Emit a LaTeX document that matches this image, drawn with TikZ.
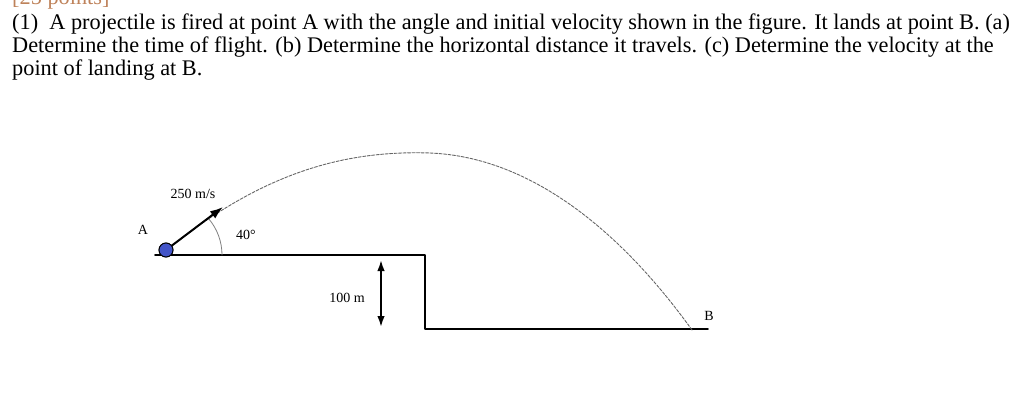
\documentclass[tikz,border=0pt]{standalone}
\usepackage{fontspec}
\setmainfont{Liberation Serif}
\usetikzlibrary{arrows.meta}
\definecolor{ballblue}{RGB}{66,84,200}
\definecolor{pointsbrown}{RGB}{190,130,90}
\begin{document}
\begin{tikzpicture}[x=1pt,y=-1pt,font=\fontsize{14}{16}\selectfont, line join=round, line cap=round, >={Latex[length=13pt,width=9pt]}]
	\useasboundingbox (0,0) rectangle (1024,406);
	\def\textsize{\fontsize{22.3}{23}\selectfont}
	%Đề bài
	\begin{scope}[every node/.style={anchor=base west, inner sep=0pt, font=\textsize}]
		\node[text=pointsbrown] (pts) at (12,5) {[25 points]};
		\node (line1) at (12,30) {(1)\ \ A projectile is fired at point A with the angle and initial velocity shown in the figure. It lands at point B. (a)};
		\node (line2) at (12,53) {Determine the time of flight. (b) Determine the horizontal distance it travels. (c) Determine the velocity at the};
		\node (line3) at (12,76) {point of landing at B.};
	\end{scope}
	
	%Mặt đất và vách
	\draw[line width=1.8pt] (155,255)--(425,255)--(425,329)--(708,329);
	
	%Quỹ đạo
	\coordinate (landB) at (692,330);
	\coordinate (peak) at (430,153);
	\draw[gray!80!black, line width=.9pt, dash pattern=on 3pt off 1.5pt] (166,250) .. controls (260,175) and (340,150) .. (peak)
		.. controls (530,157) and (620,230) .. (landB);
	
	%Góc bắn
	\draw[gray, line width=.8pt] (222,255) arc(0:-40:56);
	
	%Viên đạn và vận tốc
	\node[circle, draw, line width=.9pt, fill=ballblue, minimum size=14pt, inner sep=0pt] (ball) at (166,250) {};
	\coordinate (tip) at (223,207);
	\draw[->, line width=2pt] (ball.center)--(tip);
	\node[circle, draw, line width=.9pt, fill=ballblue, minimum size=14pt, inner sep=0pt] at (ball) {};
	
	%Độ cao
	\coordinate (hTop) at (381,260);
	\coordinate (hBot) at (381,327);
	\draw[<->, line width=1.8pt, >={Latex[length=11pt,width=7.5pt]}] (hTop)--(hBot);
	
	\node (labA) at (143,230) {A};
	\node (labV) at (193,194) {250 m/s};
	\node (labAng) at (246,235) {40\textdegree};
	\node (labH) at (347,298) {100 m};
	\node (labB) at (709,316) {B};
\end{tikzpicture}
\end{document}
